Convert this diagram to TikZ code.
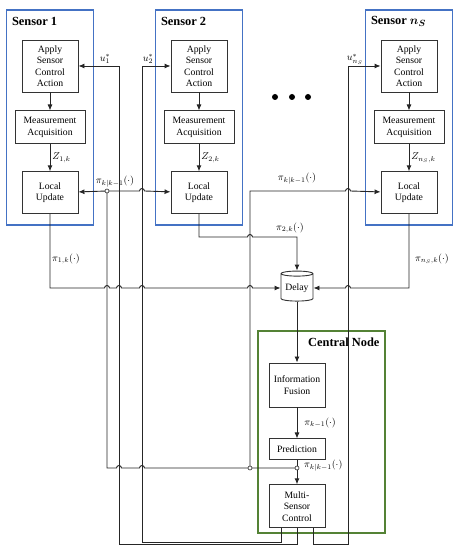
\documentclass[tikz,border=0pt]{standalone}
\usepackage{fontspec}
\setmainfont{Liberation Serif}
\usepackage{bm}
\usetikzlibrary{positioning, arrows.meta, shapes.geometric}

\definecolor{sensorblue}{RGB}{68,114,196}
\definecolor{centralgreen}{RGB}{84,130,53}

\tikzset{
  block/.style={draw=black!80, line width=0.9pt, align=center, inner sep=1pt,
    font=\fontsize{9.7}{11.5}\selectfont, minimum width=56pt},
  sensorbox/.style={draw=sensorblue, line width=1.3pt, minimum width=87pt, minimum height=215pt},
  centralbox/.style={draw=centralgreen, line width=1.3pt, minimum width=127pt, minimum height=202pt},
  boxtitle/.style={font=\fontsize{12.4}{14}\selectfont\bfseries, inner sep=0pt},
  delaybox/.style={shape=cylinder, shape border rotate=90, aspect=0.2, draw=black!80,
    line width=0.9pt, fill=white, minimum width=32pt, minimum height=30pt, inner sep=1pt,
    font=\fontsize{9.7}{11.5}\selectfont},
  wire/.style={line width=0.9pt, draw=black!85},
  flow/.style={wire, -{Latex[length=6pt,width=5pt]}},
  lbl/.style={font=\fontsize{9.7}{11}\selectfont, inner sep=0pt},
  junc/.style={circle, draw=black!85, fill=white, line width=0.6pt, inner sep=0pt, minimum size=4pt},
}

\begin{document}
\begin{tikzpicture}[x=1pt, y=1pt]
\useasboundingbox (0,0) rectangle (462,550);

% sensors
\foreach \i/\cx/\sname/\zs in {1/50/1/1, 2/199/2/2, 3/409/{$\bm{n_S}$}/n_S} {
  \node[sensorbox] (s\i) at (\cx,432.5) {};
  \node[boxtitle, anchor=west] (t\i) at ([xshift=6pt,yshift=-12pt]s\i.north west) {Sensor \sname};
  \node[block, minimum height=52pt] (ap\i) at (\cx,484) {Apply\\Sensor\\Control\\Action};
  \node[block, minimum width=70pt, minimum height=33pt, below=18pt of ap\i] (ms\i) {Measurement\\Acquisition};
  \node[block, minimum height=42pt, below=27pt of ms\i] (lu\i) {Local\\Update};
  \draw[flow] (ap\i) -- (ms\i);
  \draw[flow] (ms\i) -- node[lbl, right=2pt] (z\i) {$Z_{\zs,k}$} (lu\i);
}
\foreach \dx in {275,292,308}
  \fill (\dx,453) circle (3);

% central node
\node[centralbox] (cn) at (321.5,118) {};
\node[boxtitle, anchor=east] (tc) at ([xshift=-6pt,yshift=-12pt]cn.north east) {Central Node};
\node[block, minimum height=44pt] (inf) at (297,165) {Information\\Fusion};
\node[block, minimum height=21pt, below=31pt of inf] (pred) {Prediction};
\node[block, minimum height=43pt, below=24pt of pred] (msc) {Multi-\\Sensor\\Control};
\node[delaybox] (dly) at (297,262) {Delay};

\coordinate (jA) at (107,359);
\coordinate (jB) at (250,82);
\coordinate (jC) at (297,82);

% local posteriors to the delay
\draw[flow] (lu1) |- (104.5,262) arc[start angle=180, end angle=0, radius=2.5]
  -- (116.5,262) arc[start angle=180, end angle=0, radius=2.5]
  -- (139.5,262) arc[start angle=180, end angle=0, radius=2.5]
  -- (247.5,262) arc[start angle=180, end angle=0, radius=2.5] -- (dly);
\draw[flow] (lu2) |- (247.5,313) arc[start angle=180, end angle=0, radius=2.5] -| (dly);
\draw[flow] (lu3) |- (350.5,262) arc[start angle=0, end angle=180, radius=2.5] -- (dly);
\draw[flow] (dly) -- (inf);
\draw[flow] (inf) -- node[lbl, right=7pt] (lk1) {$\pi_{k-1}(\cdot)$} (pred);
\draw[flow] (pred) -- (msc);

% predicted density back to the sensors
\draw[wire] (jC) -- (jB) -- (144.5,82) arc[start angle=0, end angle=180, radius=2.5]
  -- (121.5,82) arc[start angle=0, end angle=180, radius=2.5] -- (107,82) -- (jA);
\draw[flow] (jA) -- (lu1);
\draw[flow] (jA) -- (139.5,359) arc[start angle=180, end angle=0, radius=2.5] -- (lu2);
\draw[flow] (jB) |- (345.5,359) arc[start angle=180, end angle=0, radius=2.5] -- (lu3);

% control actions
\draw[flow] (msc.south) |- (119,6) -- (119,484) -- (ap1);
\draw[flow] ([xshift=-16pt]msc.south) |- (142,8) -- (142,484) -- (ap2);
\draw[flow] ([xshift=16pt]msc.south) |- (348,6) -- (348,484) -- (ap3);

\foreach \j in {jA,jB,jC}
  \node[junc] (c-\j) at (\j) {};

% labels
\node[lbl] (lp1) at (115,368) {$\pi_{k|k-1}(\cdot)$};
\node[lbl] (lp2) at (297,371) {$\pi_{k|k-1}(\cdot)$};
\node[lbl, anchor=west] (lp3) at (304,84) {$\pi_{k|k-1}(\cdot)$};
\node[lbl] (l1k) at (66,291) {$\pi_{1,k}(\cdot)$};
\node[lbl] (l2k) at (290,322) {$\pi_{2,k}(\cdot)$};
\node[lbl] (lnk) at (432,291) {$\pi_{n_S,k}(\cdot)$};
\node[lbl] (u1) at (105,491) {$u_1^*$};
\node[lbl] (u2) at (148,491) {$u_2^*$};
\node[lbl] (u3) at (355,491) {$u_{n_S}^*$};
\end{tikzpicture}
\end{document}
